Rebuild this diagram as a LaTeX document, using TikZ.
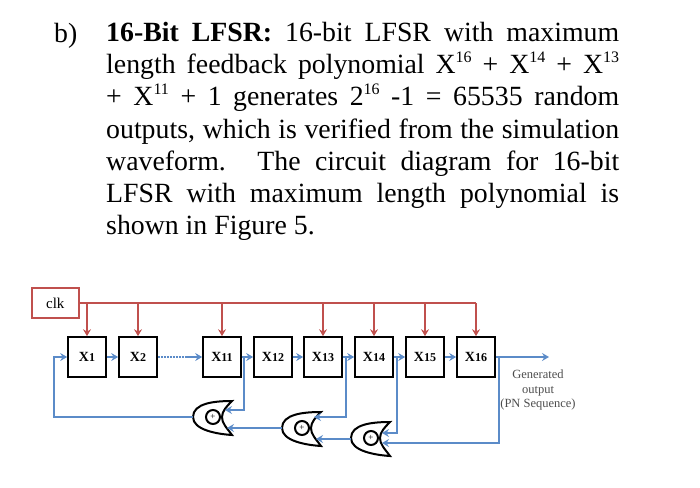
\documentclass[tikz,border=0pt]{standalone}
\usepackage{fontspec}
\setmainfont{Liberation Serif}
\usetikzlibrary{arrows.meta}
\definecolor{clkred}{HTML}{C0504D}
\definecolor{sigblue}{HTML}{5B8BC8}
\tikzset{
    >={Stealth[length=7pt, width=8pt, inset=2.5pt]},
    reg/.style={draw, line width=1.7pt, minimum width=38pt, minimum height=40pt, inner sep=0pt, font=\fontsize{14}{14}\bfseries\selectfont},
    clkline/.style={draw=clkred, line width=1.7pt},
    sigline/.style={draw=sigblue, line width=1.7pt},
    xorgate/.pic={
        \draw[line width=2pt, fill=white] (19,-16) .. controls (2,-16) and (-20,-14) .. (-20,0) .. controls (-20,13) and (4,17) .. (19,18) .. controls (13,10) and (9,6) .. (9,0) .. controls (9,-6) and (14,-11) .. (19,-16) -- cycle;
        \node[circle, draw, line width=2pt, minimum size=14pt, inner sep=0pt, font=\fontsize{9}{9}\selectfont] (-plus) at (0,0) {+};
        \coordinate (-out) at (-20,0);
    }
}
\newcommand{\xreg}[1]{X{\fontsize{12}{12}\selectfont #1}}
\newcommand{\pw}[1]{\raisebox{.42em}{\fontsize{16}{16}\selectfont #1}}
\begin{document}
\begin{tikzpicture}[x=1pt, y=-1pt]
    \useasboundingbox (0,0) rectangle (700,487);

    % Text
    \node[anchor=base west, inner sep=0pt, font=\fontsize{27.8}{32}\selectfont] (item) at (54,42) {b)};
    \node[anchor=north west, inner sep=0pt, text width=513pt, align=justify, font=\fontsize{27.8}{32.2}\selectfont] (para) at (106,22) {\textbf{16-Bit LFSR:} 16-bit LFSR with maximum\linebreak
    length feedback polynomial X\pw{16} + X\pw{14} + X\pw{13}\linebreak
    + X\pw{11} + 1 generates 2\pw{16} -1 = 65535 random\linebreak
    outputs, which is verified from the simulation\linebreak
    waveform. The circuit diagram for 16-bit\linebreak
    LFSR with maximum length polynomial is\linebreak
    shown in Figure 5.};

    % Registers
    \node[reg] (x1) at (87,357) {\xreg{1}};
    \node[reg] (x2) at (138,357) {\xreg{2}};
    \node[reg] (x11) at (222,357) {\xreg{11}};
    \node[reg] (x12) at (273,357) {\xreg{12}};
    \node[reg] (x13) at (323,357) {\xreg{13}};
    \node[reg] (x14) at (374,357) {\xreg{14}};
    \node[reg] (x15) at (425,357) {\xreg{15}};
    \node[reg] (x16) at (476,357) {\xreg{16}};

    % Clock
    \node[draw=clkred, line width=2pt, minimum width=46.6pt, minimum height=29.6pt, inner sep=0pt, font=\fontsize{15}{15}\selectfont] (clk) at (55.3,303) {clk};
    \draw[clkline] (clk.east) -- (x16 |- clk.east);
    \foreach \r in {x1, x2, x11, x13, x14, x15, x16}
        \draw[clkline, ->] (\r |- clk.east) -- (\r.north);

    % Gates
    \pic (ga) at (213,417) {xorgate};
    \pic (gb) at (302,428) {xorgate};
    \pic (gc) at (371,438) {xorgate};

    % Gate inputs and taps
    \coordinate (fb) at (54,357);
    \coordinate (tapa) at (244,357);
    \coordinate (tapb) at (346,357);
    \coordinate (tapc) at (397,357);
    \coordinate (tapd) at (499,357);
    \coordinate (outend) at (549,357);
    \coordinate (dotend) at (186,357);
    \coordinate (ina) at (225,410);
    \coordinate (inb) at (227,428);
    \coordinate (inc) at (314,417);
    \coordinate (ind) at (316,439);
    \coordinate (ine) at (382,433);
    \coordinate (inf) at (382,443);

    % Shift path
    \draw[sigline, ->] (x1) -- (x2);
    \draw[sigline, dash pattern=on 2pt off 1pt] (x2) -- (dotend);
    \draw[sigline, ->] (dotend) -- (x11);
    \draw[sigline, ->] (x11) -- (x12);
    \draw[sigline, ->] (x12) -- (x13);
    \draw[sigline, ->] (x13) -- (x14);
    \draw[sigline, ->] (x14) -- (x15);
    \draw[sigline, ->] (x15) -- (x16);
    \draw[sigline, ->] (x16) -- (outend);

    % Feedback
    \draw[sigline, ->] (ga-out) -| (fb) -- (x1);
    \draw[sigline, ->] (tapa) |- (ina);
    \draw[sigline, ->] (tapb) |- (inc);
    \draw[sigline, ->] (tapc) |- (ine);
    \draw[sigline, ->] (tapd) |- (inf);
    \draw[sigline, ->] (gb-out |- inb) -- (inb);
    \draw[sigline, ->] (gc-out |- ind) -- (ind);

    % Output label
    \node[align=center, text=black!70, inner sep=0pt, font=\fontsize{12.5}{14.5}\selectfont] (genout) at (538,390) {Generated\\output\\(PN Sequence)};
\end{tikzpicture}
\end{document}
